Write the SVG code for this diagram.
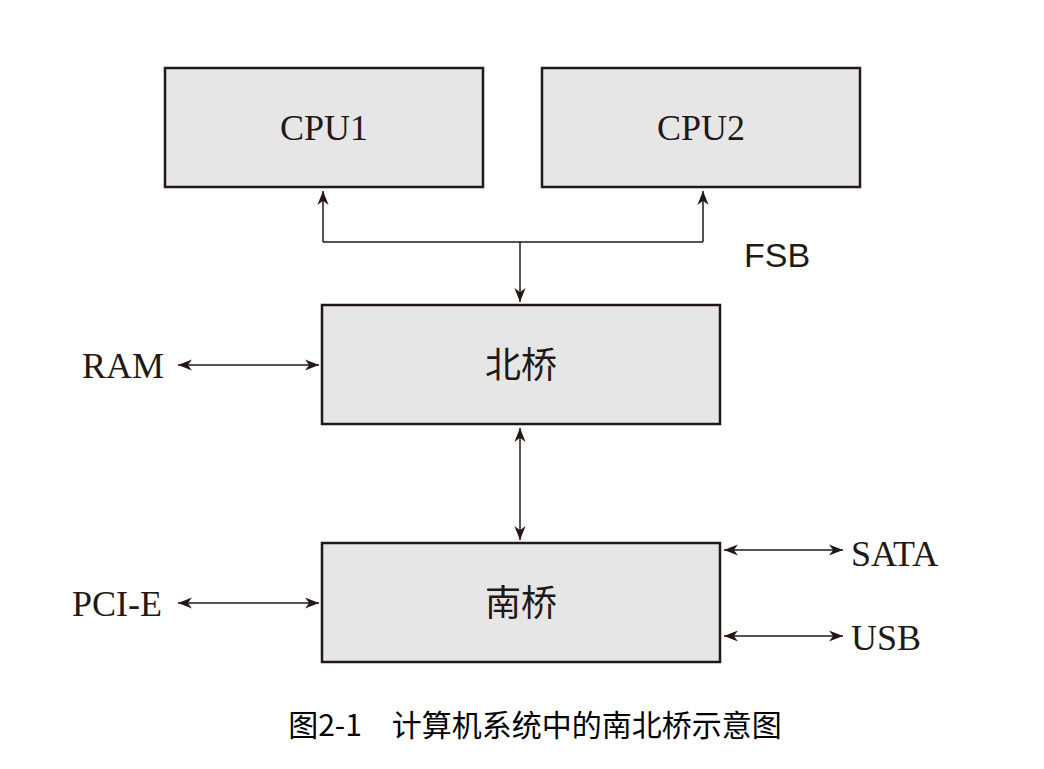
<svg xmlns="http://www.w3.org/2000/svg" width="1044" height="769" viewBox="0 0 1044 769">
<defs>
<marker id="a" viewBox="0 0 10 10" refX="10" refY="5" markerWidth="14" markerHeight="14" markerUnits="userSpaceOnUse" orient="auto-start-reverse"><path d="M0,1 L10,5 L0,9 L3,5 Z" fill="#231815"/></marker>
<style>
.box{fill:#e6e6e6;stroke:#231815;stroke-width:2.5}
.t{font-family:"Liberation Serif","Noto Sans CJK SC",serif;font-size:36px;fill:#231815;text-anchor:middle}
.l{font-family:"Liberation Serif",serif;font-size:36px;fill:#231815}
.c{stroke:#231815;stroke-width:1.5;fill:none}
</style>
</defs>
<rect width="1044" height="769" fill="#fff"/>
<g id="cpu1"><rect class="box" x="165" y="68" width="318" height="119"/><text class="t" x="324" y="140">CPU1</text></g>
<g id="cpu2"><rect class="box" x="542" y="68" width="318" height="119"/><text class="t" x="701" y="140">CPU2</text></g>
<g id="north"><rect class="box" x="322" y="305" width="398" height="119"/><text class="t" x="521" y="378">北桥</text></g>
<g id="south"><rect class="box" x="322" y="543" width="398" height="119"/><text class="t" x="521" y="616">南桥</text></g>
<g id="connectors">
<path class="c" d="M323,242 L323,191" marker-end="url(#a)"/>
<path class="c" d="M703,242 L703,191" marker-end="url(#a)"/>
<path class="c" d="M323,242 L703,242"/>
<path class="c" d="M520,242 L520,302" marker-end="url(#a)"/>
<path class="c" d="M178,365 L319,365" marker-start="url(#a)" marker-end="url(#a)"/>
<path class="c" d="M520,428 L520,540" marker-start="url(#a)" marker-end="url(#a)"/>
<path class="c" d="M178,603 L319,603" marker-start="url(#a)" marker-end="url(#a)"/>
<path class="c" d="M724,550 L843,550" marker-start="url(#a)" marker-end="url(#a)"/>
<path class="c" d="M724,636 L843,636" marker-start="url(#a)" marker-end="url(#a)"/>
</g>
<text x="744" y="267" style="font-family:'Liberation Sans',sans-serif;font-size:34px;fill:#231815">FSB</text>
<text class="l" x="82" y="378">RAM</text>
<text class="l" x="72" y="616">PCI-E</text>
<text class="l" x="851" y="566">SATA</text>
<text class="l" x="851" y="650">USB</text>
<text x="535" y="736" text-anchor="middle" style="font-family:'Noto Sans CJK SC',sans-serif;font-size:30px;fill:#000">图2-1　计算机系统中的南北桥示意图</text>
</svg>
